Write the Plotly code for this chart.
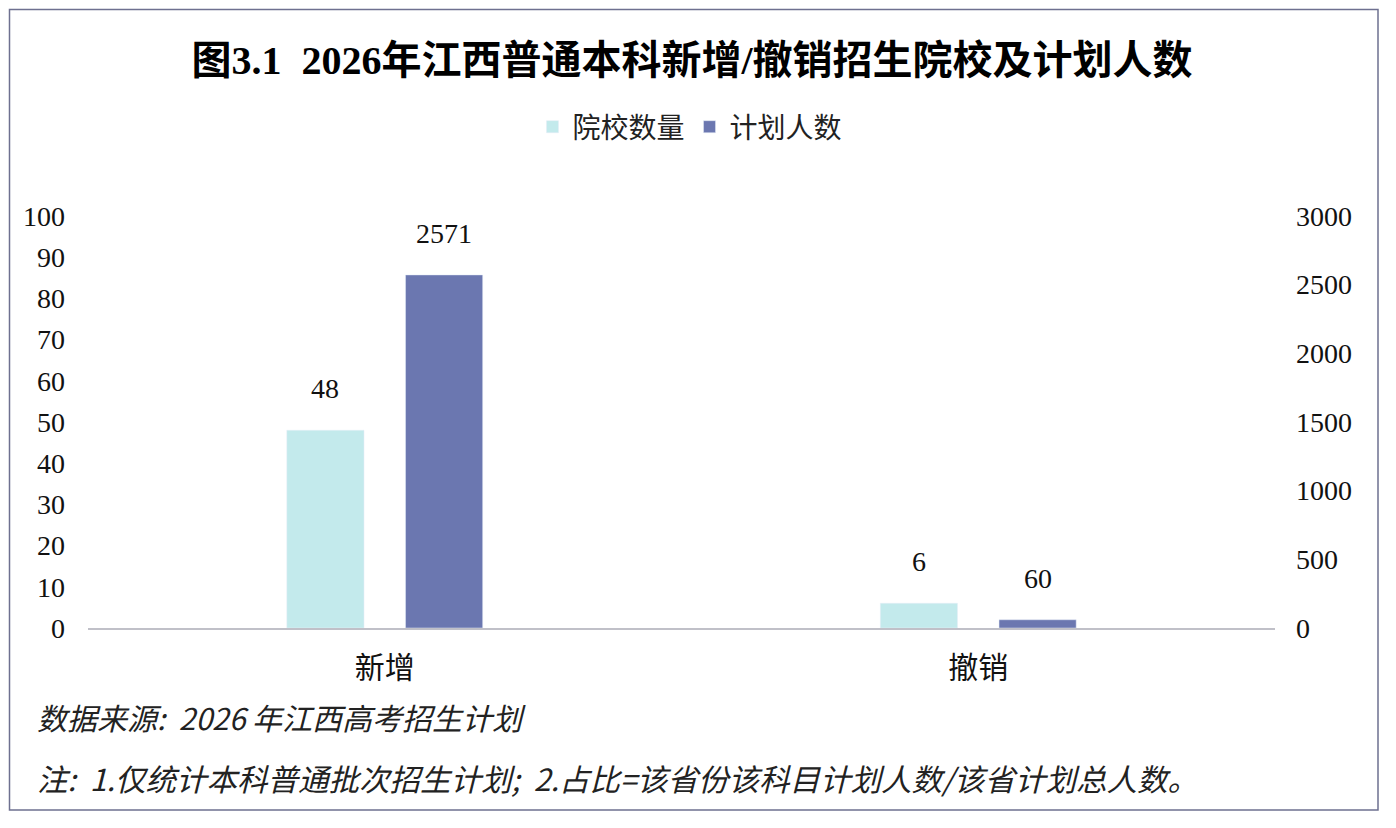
import plotly.graph_objects as go

# Data
categories = ["新增", "撤销"]
school_counts = [48, 6]        # 院校数量 (left axis)
plan_counts = [2571, 60]       # 计划人数 (right axis)
left_ticks = [0, 10, 20, 30, 40, 50, 60, 70, 80, 90, 100]
right_ticks = [0, 500, 1000, 1500, 2000, 2500, 3000]

W, H = 1396, 828
OFF = 8                          # page body margin
L, R, T, B = 88, 1275, 216, 628  # plot area in reference pixels
BARGAP = 0.6


def px(x):
    return (x - L) / (R - L)


def py(y):
    return (B - y) / (B - T)


SERIF = "Liberation Serif, Noto Sans CJK SC, serif"
CJK = "Noto Sans CJK SC, sans-serif"

fig = go.Figure()
fig.add_trace(go.Bar(
    x=categories, y=school_counts, name="院校数量",
    marker_color="#c3eaec", offsetgroup=1, yaxis="y",
))
fig.add_trace(go.Bar(
    x=categories, y=plan_counts, name="计划人数",
    marker_color="#6b77b0", offsetgroup=2, yaxis="y2",
))

# value labels above the bars
labels = []
shift = (1 - BARGAP) / 4
for i, v in enumerate(school_counts):
    labels.append(dict(x=i - shift, y=v, xref="x", yref="y", text=str(v),
                       showarrow=False, yanchor="bottom", yshift=24,
                       font=dict(family=SERIF, size=28, color="#111111")))
for i, v in enumerate(plan_counts):
    labels.append(dict(x=i + shift, y=v, xref="x", yref="y2", text=str(v),
                       showarrow=False, yanchor="bottom", yshift=24,
                       font=dict(family=SERIF, size=28, color="#111111")))

notes = [
    dict(text="<i>数据来源:  2026 年江西高考招生计划</i>",
         xref="paper", yref="paper", x=px(35), y=py(717),
         xanchor="left", yanchor="middle", showarrow=False,
         font=dict(family=CJK, size=30, color="#222222")),
    dict(text="<i>注:  1.仅统计本科普通批次招生计划;  2.占比=该省份该科目计划人数/该省计划总人数。</i>",
         xref="paper", yref="paper", x=px(35), y=py(778),
         xanchor="left", yanchor="middle", showarrow=False,
         font=dict(family=CJK, size=30.5, color="#222222")),
]

fig.update_layout(
    width=W, height=H,
    margin=dict(l=L - OFF, r=W - (R - OFF), t=T - OFF, b=H - (B - OFF)),
    paper_bgcolor="white", plot_bgcolor="white",
    barmode="group", bargap=BARGAP, bargroupgap=0.35,
    font=dict(family=SERIF, size=28, color="#111111"),
    title=dict(
        text="<b>图3.1  2026年江西普通本科新增/撤销招生院校及计划人数</b>",
        x=(692 - OFF) / W, y=1 - (60 - OFF) / H,
        xanchor="center", yanchor="middle",
        font=dict(family=SERIF, size=40, color="#000000"),
    ),
    legend=dict(
        orientation="h", x=px(690), y=py(127),
        xanchor="center", yanchor="middle",
        font=dict(family=CJK, size=28, color="#222222"),
        itemwidth=30, tracegroupgap=0,
    ),
    xaxis=dict(
        showgrid=False, showline=True, linecolor="#c0c0c8", linewidth=1.5,
        ticks="", tickfont=dict(family=CJK, size=30, color="#111111"),
        ticklabelstandoff=12,
    ),
    yaxis=dict(
        range=[0, 100], tickvals=left_ticks, showgrid=False, zeroline=False,
        showline=False, ticks="", ticklabelstandoff=22,
        tickfont=dict(family=SERIF, size=28, color="#111111"),
    ),
    yaxis2=dict(
        range=[0, 3000], tickvals=right_ticks, overlaying="y", side="right",
        showgrid=False, zeroline=False, showline=False, ticks="",
        ticklabelstandoff=20,
        tickfont=dict(family=SERIF, size=28, color="#111111"),
    ),
    # frame round the whole chart (top/left clamped to the figure edge)
    shapes=[dict(
        type="rect", xref="paper", yref="paper",
        x0=px(OFF + 1.5), x1=px(1378), y0=py(810), y1=py(OFF + 1.5),
        line=dict(color="#6e7090", width=1.5), fillcolor="rgba(0,0,0,0)",
        layer="below",
    )],
    annotations=labels + notes,
)

fig.write_html("out.html")
